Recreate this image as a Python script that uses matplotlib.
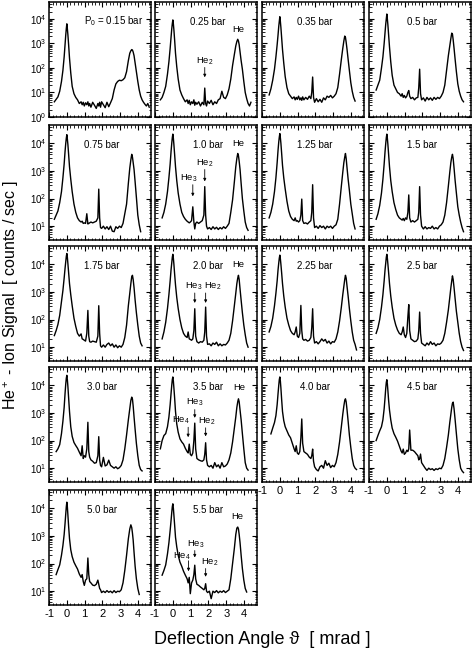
import numpy as np
import matplotlib
matplotlib.use("Agg")
import matplotlib.pyplot as plt
from matplotlib.ticker import FixedLocator, MultipleLocator, LogLocator, NullFormatter

plt.rcParams['font.family'] = ['Liberation Sans', 'DejaVu Sans']
plt.rcParams['mathtext.fontset'] = 'custom'
plt.rcParams['mathtext.rm'] = 'Liberation Sans'
plt.rcParams['mathtext.it'] = 'Liberation Sans:italic'
plt.rcParams['mathtext.bf'] = 'Liberation Sans:bold'
plt.rcParams['axes.unicode_minus'] = False

nan = float('nan')

# deflection angle grid [mrad]
angle = [-0.70, -0.60, -0.50, -0.40, -0.30, -0.22, -0.15, -0.10, -0.06, -0.03,
         0.00, 0.03, 0.06, 0.10, 0.15, 0.22, 0.30, 0.40, 0.50, 0.60,
         0.70, 0.80, 0.86, 0.92, 0.98, 1.05, 1.12, 1.18, 1.23, 1.28,
         1.35, 1.45, 1.55, 1.65, 1.74, 1.79, 1.84, 1.89, 1.95, 2.05,
         2.15, 2.25, 2.35, 2.45, 2.55, 2.65, 2.75, 2.85, 2.95, 3.05,
         3.15, 3.25, 3.35, 3.45, 3.53, 3.59, 3.64, 3.68, 3.72, 3.77,
         3.83, 3.90, 3.98, 4.06, 4.14, 4.22, 4.30, 4.38, 4.46, 4.54,
         4.62]

# log10 of He+ signal [counts/sec]
sig_015 = [0.62, 0.72, 0.82, 1.05, 1.45, 1.9, 2.45, 2.95, 3.35, 3.6,
           3.8, 3.6, 3.35, 2.95, 2.4, 1.8, 1.25, 0.95, 0.8, 0.7,
           0.55, 0.62, 0.5, 0.6, 0.45, 0.58, 0.5, 0.62, 0.45, 0.55,
           0.4, 0.6, 0.48, 0.35, 0.55, 0.45, 0.6, 0.4, 0.62, 0.5,
           0.38, 0.6, 0.42, 0.58, 0.75, 1.1, 1.35, 1.45, 1.5, 1.48,
           1.52, 1.6, 1.85, 2.3, 2.6, 2.7, 2.75, 2.73, 2.65, 2.5,
           2.2, 1.85, 1.45, 1.1, 0.85, 0.7, 0.6, 0.52, 0.45, 0.55,
           0.4]
sig_025 = [0.7, 0.8, 1.0, 1.25, 1.75, 2.25, 2.8, 3.25, 3.6, 3.8,
           3.96, 3.8, 3.55, 3.15, 2.6, 2.05, 1.55, 1.1, 0.9, 0.75,
           0.62, 0.7, 0.55, 0.68, 0.5, 0.62, 0.55, 0.7, 0.48, 0.6,
           0.52, 0.62, 0.45, 0.6, 0.5, 1.18, 0.55, 0.45, 0.65, 0.55,
           0.68, 0.5, 0.62, 0.55, 0.7, 0.75, 1.05, 0.8, 0.75, 0.9,
           1.15, 1.55, 2.1, 2.55, 2.9, 3.08, 3.17, 3.1, 2.95, 2.65,
           2.3, 1.95, 1.45, 1.0, 0.75, 0.55, 0.45, 0.6, nan, nan,
           nan]
sig_035 = [nan, 0.9, 1.15, 1.5, 1.95, 2.45, 2.95, 3.35, 3.7, 3.9,
           4.09, 3.9, 3.65, 3.25, 2.75, 2.2, 1.65, 1.2, 0.95, 0.85,
           0.75, 0.82, 0.7, 0.8, 0.72, 0.85, 0.7, 0.78, 0.68, 0.82,
           0.7, 0.8, 0.72, 0.85, 0.75, 1.0, 1.63, 0.8, 0.6, 0.75,
           0.62, 0.72, 0.6, 0.78, 0.7, 0.85, 0.8, 0.88, 0.78, 0.85,
           0.95, 1.2, 1.75, 2.35, 2.8, 3.1, 3.3, 3.25, 3.05, 2.75,
           2.35, 1.9, 1.4, 1.05, 0.8, 0.65, nan, nan, nan, nan,
           nan]
sig_05 = [nan, 1.1, 1.3, 1.5, 2.0, 2.45, 3.0, 3.45, 3.8, 4.0,
          4.2, 4.0, 3.75, 3.35, 2.85, 2.25, 1.7, 1.3, 1.15, 1.0,
          0.95, 0.85, 0.95, 0.8, 0.88, 0.78, 0.85, 1.0, 1.08, 0.85,
          0.75, 0.8, 0.7, 0.78, 0.8, 1.2, 1.95, 0.95, 0.7, 0.78,
          0.65, 0.8, 0.7, 0.78, 0.68, 0.8, 0.72, 0.8, 0.75, 0.85,
          1.0, 1.3, 1.9, 2.5, 2.9, 3.2, 3.42, 3.38, 3.15, 2.8,
          2.35, 1.85, 1.35, 1.05, 0.85, 0.7, 0.62, nan, nan, nan,
          nan]
sig_075 = [1.25, 1.4, 1.55, 1.85, 2.25, 2.75, 3.25, 3.7, 4.0, 4.18,
           4.31, 4.15, 3.95, 3.6, 3.15, 2.7, 2.25, 1.8, 1.5, 1.3,
           1.2, 1.15, 1.18, 1.1, 1.12, 1.1, 1.45, 1.08, 1.1, 1.12,
           1.15, 1.12, 1.15, 1.18, 1.3, 2.34, 1.3, 0.95, 0.92, 1.0,
           0.9, 0.98, 0.88, 1.0, 0.82, 0.8, 0.98, 0.92, 1.0, 0.95,
           1.1, 1.45, 1.8, 2.55, 3.1, 3.4, 3.6, 3.5, 3.3, 3.05,
           2.6, 2.05, 1.4, 1.05, 0.8, nan, nan, nan, nan, nan,
           nan]
sig_10 = [nan, 1.3, 1.5, 1.8, 2.25, 2.75, 3.25, 3.7, 4.0, 4.2,
          4.33, 4.18, 3.95, 3.6, 3.15, 2.65, 2.2, 1.8, 1.5, 1.35,
          1.25, 1.18, 1.15, 1.12, 1.15, 1.2, 1.7, 1.15, 0.9, 1.1,
          1.15, 1.1, 1.15, 1.2, 1.4, 2.43, 1.4, 1.0, 0.9, 0.95,
          0.88, 0.98, 0.9, 0.96, 0.88, 0.95, 0.9, 0.98, 0.92, 1.0,
          1.1, 1.5, 1.95, 2.6, 3.15, 3.45, 3.63, 3.55, 3.35, 3.05,
          2.55, 2.0, 1.55, 1.15, 0.95, 0.85, nan, nan, nan, nan,
          nan]
sig_125 = [nan, 1.3, 1.5, 1.8, 2.25, 2.75, 3.3, 3.75, 4.05, 4.22,
           4.35, 4.2, 4.0, 3.65, 3.2, 2.75, 2.35, 1.9, 1.55, 1.35,
           1.25, 1.2, 1.3, 1.18, 1.2, 1.15, 1.2, 1.4, 1.98, 1.2,
           1.1, 1.12, 1.08, 1.15, 1.2, 1.5, 2.5, 1.3, 0.95, 1.0,
           0.92, 1.02, 0.95, 1.0, 0.9, 1.0, 0.95, 1.0, 0.92, 1.0,
           1.05, 1.25, 1.8, 2.45, 2.95, 3.3, 3.5, 3.63, 3.45, 3.1,
           2.7, 2.3, 1.8, 1.45, 1.1, 0.9, nan, nan, nan, nan,
           nan]
sig_15 = [nan, 1.25, 1.45, 1.75, 2.2, 2.7, 3.25, 3.7, 4.0, 4.2,
          4.33, 4.18, 3.95, 3.6, 3.15, 2.65, 2.25, 1.85, 1.6, 1.4,
          1.3, 1.25, 1.22, 1.28, 1.2, 1.3, 1.25, 1.5, 2.13, 1.3,
          1.15, 1.2, 1.15, 1.2, 1.25, 1.5, 2.43, 1.4, 1.0, 0.9,
          0.98, 0.9, 0.95, 0.92, 1.0, 0.9, 0.95, 0.9, 1.0, 1.05,
          1.15, 1.4, 1.85, 2.45, 2.95, 3.3, 3.5, 3.6, 3.45, 3.1,
          2.65, 2.2, 1.7, 1.4, 1.15, 0.95, 0.8, nan, nan, nan,
          nan]
sig_175 = [1.42, 1.6, 1.82, 2.15, 2.65, 3.05, 3.5, 3.85, 4.1, 4.28,
           4.39, 4.25, 4.02, 3.7, 3.3, 2.9, 2.5, 2.05, 1.75, 1.5,
           1.4, 1.48, 1.3, 1.28, 1.25, 1.22, 1.5, 2.33, 1.4, 1.2,
           1.18, 1.22, 1.2, 1.18, 1.4, 2.5, 1.5, 1.05, 1.0, 1.08,
           1.0, 1.1, 1.15, 1.05, 1.12, 1.0, 1.08, 0.98, 1.05, 1.0,
           1.1, 1.35, 1.8, 2.5, 2.95, 3.3, 3.55, 3.6, 3.45, 3.15,
           2.7, 2.25, 1.8, 1.4, 1.15, 1.05, nan, nan, nan, nan,
           nan]
sig_20 = [nan, 1.3, 1.55, 1.9, 2.4, 2.9, 3.4, 3.8, 4.05, 4.25,
          4.36, 4.22, 4.0, 3.65, 3.25, 2.8, 2.4, 2.0, 1.7, 1.5,
          1.4, 1.35, 1.55, 1.3, 1.28, 1.25, 1.3, 1.6, 2.39, 1.4,
          1.2, 1.15, 1.2, 1.18, 1.25, 1.55, 2.45, 1.4, 1.1, 1.12,
          1.05, 1.15, 1.1, 1.18, 1.05, 1.12, 1.05, 1.1, 1.08, 1.15,
          1.25, 1.5, 1.95, 2.5, 2.95, 3.3, 3.5, 3.6, 3.45, 3.1,
          2.7, 2.25, 1.8, 1.45, 1.15, 1.0, nan, nan, nan, nan,
          nan]
sig_225 = [nan, 1.55, 1.75, 2.05, 2.5, 2.95, 3.4, 3.8, 4.05, 4.22,
           4.33, 4.2, 4.0, 3.7, 3.3, 2.85, 2.45, 2.05, 1.8, 1.6,
           1.5, 1.45, 1.55, 1.73, 1.4, 1.35, 1.5, 2.51, 1.6, 1.3,
           1.25, 1.28, 1.22, 1.25, 1.35, 1.7, 2.39, 1.4, 1.15, 1.2,
           1.12, 1.2, 1.3, 1.22, 1.28, 1.15, 1.22, 1.12, 1.2, 1.18,
           1.3, 1.55, 1.95, 2.45, 2.9, 3.2, 3.45, 3.6, 3.5, 3.2,
           2.85, 2.4, 1.95, 1.55, 1.25, 1.1, 0.9, nan, nan, nan,
           nan]
sig_25 = [nan, 1.5, 1.7, 2.0, 2.45, 2.9, 3.4, 3.8, 4.05, 4.25,
          4.36, 4.22, 4.0, 3.7, 3.3, 2.85, 2.45, 2.05, 1.8, 1.62,
          1.5, 1.45, 1.55, 1.73, 1.45, 1.35, 1.5, 2.1, 2.54, 1.6,
          1.3, 1.25, 1.2, 1.22, 1.3, 1.6, 2.27, 1.5, 1.15, 1.1,
          1.05, 1.15, 1.08, 1.2, 1.1, 1.15, 1.05, 1.12, 1.1, 1.15,
          1.25, 1.5, 1.9, 2.35, 2.8, 3.15, 3.4, 3.58, 3.45, 3.15,
          2.75, 2.3, 1.9, 1.5, 1.2, 1.0, 0.88, nan, nan, nan,
          nan]
sig_30 = [nan, 1.6, 1.7, 1.85, 2.25, 2.7, 3.2, 3.7, 4.05, 4.25,
          4.36, 4.2, 3.95, 3.55, 3.05, 2.5, 2.15, 1.93, 1.82, 1.72,
          1.58, 1.45, 1.81, 1.35, 1.45, 1.4, 1.7, 2.66, 1.6, 1.4,
          1.3, 1.25, 1.18, 1.2, 1.45, 2.14, 1.3, 1.1, 1.05, 1.39,
          1.08, 1.12, 1.29, 1.1, 1.05, 1.0, 1.05, 0.98, 1.02, 1.1,
          1.3, 1.7, 2.2, 2.75, 3.15, 3.45, 3.57, 3.5, 3.25, 2.85,
          2.4, 1.9, 1.45, 1.1, 0.95, 0.9, nan, nan, nan, nan,
          nan]
sig_35 = [1.7, 2.0, 2.18, 2.25, 2.5, 2.85, 3.3, 3.7, 4.0, 4.2,
          4.3, 4.15, 3.9, 3.55, 3.05, 2.6, 2.3, 2.06, 1.95, 1.87,
          1.72, 1.6, 1.55, 1.87, 1.5, 1.45, 1.55, 2.0, 2.63, 1.7,
          1.35, 1.3, 1.27, 1.25, 1.3, 1.5, 1.92, 1.3, 1.1, 1.05,
          1.1, 1.0, 1.2, 1.05, 1.12, 1.0, 1.2, 1.05, 1.08, 1.15,
          1.3, 1.55, 1.95, 2.45, 2.85, 3.2, 3.4, 3.51, 3.4, 3.1,
          2.75, 2.25, 1.7, 1.2, 1.0, 0.93, nan, nan, nan, nan,
          nan]
sig_40 = [nan, nan, 2.24, 2.45, 2.65, 2.9, 3.3, 3.7, 4.0, 4.2,
          4.3, 4.15, 3.9, 3.5, 3.05, 2.72, 2.5, 2.35, 2.2, 2.1,
          1.9, 1.7, 1.6, 1.81, 1.55, 1.5, 1.6, 2.1, 2.78, 1.9,
          1.6, 1.55, 1.5, 1.4, 1.35, 1.45, 1.69, 1.25, 1.05, 0.95,
          0.9, 1.05, 1.1, 1.0, 1.27, 1.1, 1.18, 1.02, 1.1, 1.05,
          1.2, 1.5, 1.95, 2.5, 2.95, 3.25, 3.45, 3.51, 3.4, 3.1,
          2.7, 2.2, 1.75, 1.35, 1.1, 1.0, 0.95, nan, nan, nan,
          nan]
sig_45 = [nan, 2.0, 2.18, 2.35, 2.5, 2.75, 3.15, 3.55, 3.9, 4.1,
          4.2, 4.05, 3.8, 3.45, 3.1, 2.75, 2.45, 2.25, 2.12, 1.98,
          1.8, 1.62, 1.55, 1.69, 1.5, 1.55, 1.65, 1.6, 1.7, 2.38,
          1.65, 1.65, 1.6, 1.52, 1.45, 1.3, 1.35, 1.51, 1.2, 1.1,
          1.0, 0.92, 1.0, 0.95, 0.98, 0.92, 0.98, 0.95, 1.0, 0.98,
          1.1, 1.35, 1.75, 2.2, 2.65, 2.95, 3.2, 3.35, 3.39, 3.15,
          2.75, 2.25, 1.7, 1.3, 1.0, 0.9, 0.84, nan, nan, nan,
          nan]
sig_50 = [nan, 1.6, 1.78, 1.95, 2.3, 2.65, 3.05, 3.45, 3.8, 4.05,
          4.22, 4.05, 3.75, 3.35, 2.9, 2.5, 2.25, 2.05, 1.92, 1.8,
          1.62, 1.5, 1.6, 1.35, 1.21, 1.4, 1.45, 2.2, 1.6, 1.35,
          1.3, 1.22, 1.2, 1.25, 1.4, 1.25, 1.1, 1.05, 0.95, 1.0,
          0.95, 1.02, 0.96, 1.0, 0.94, 1.02, 0.95, 1.0, 0.98, 1.05,
          1.3, 1.75, 2.3, 2.9, 3.25, 3.4, 3.3, 3.1, 2.85, 2.4,
          1.9, 1.45, 1.1, 0.88, nan, nan, nan, nan, nan, nan,
          nan]
sig_55 = [nan, 1.58, 1.75, 1.95, 2.35, 2.75, 3.2, 3.55, 3.85, 4.05,
          4.16, 4.0, 3.75, 3.4, 2.95, 2.6, 2.3, 2.05, 1.9, 1.72,
          1.58, 1.45, 1.3, 1.5, 0.91, 1.3, 1.4, 1.6, 1.94, 1.45,
          1.25, 1.21, 1.15, 1.1, 1.05, 1.1, 1.27, 1.0, 0.95, 1.0,
          0.73, 1.0, 0.95, 1.02, 0.94, 1.0, 0.96, 1.02, 0.95, 1.0,
          1.05, 1.45, 2.0, 2.55, 3.05, 3.28, 3.32, 3.25, 3.05, 2.75,
          2.3, 1.82, 1.4, 1.1, 0.97, nan, nan, nan, nan, nan,
          nan]

labels = ['P$_0$ = 0.15 bar', '0.25 bar', '0.35 bar', '0.5 bar',
          '0.75 bar', '1.0 bar', '1.25 bar', '1.5 bar',
          '1.75 bar', '2.0 bar', '2.25 bar', '2.5 bar',
          '3.0 bar', '3.5 bar', '4.0 bar', '4.5 bar',
          '5.0 bar', '5.5 bar']
signals = [sig_015, sig_025, sig_035, sig_05,
           sig_075, sig_10, sig_125, sig_15,
           sig_175, sig_20, sig_225, sig_25,
           sig_30, sig_35, sig_40, sig_45,
           sig_50, sig_55]
xticks = [-1, 0, 1, 2, 3, 4]

W, H = 474.0, 651.0
left_px = [49, 155, 262, 369]
top_px = [2, 125, 246, 367, 490]
w_px, h_px = 102, 115

fig = plt.figure(figsize=(W / 100, H / 100), dpi=100)
axes = []
for k, (lab, sig) in enumerate(zip(labels, signals)):
    r, c = divmod(k, 4)
    ax = fig.add_axes([left_px[c] / W, 1 - (top_px[r] + h_px) / H, w_px / W, h_px / H])
    ax.plot(angle, [10 ** v for v in sig], color='k', lw=1.0)
    ax.set_yscale('log')
    ax.set_xlim(-1.0, 4.72)
    if r == 0:
        ax.set_ylim(1, 10 ** 4.69)
    else:
        ax.set_ylim(10 ** 0.5, 10 ** 4.66)

    ax.xaxis.set_major_locator(FixedLocator(xticks))
    ax.xaxis.set_minor_locator(MultipleLocator(0.2))
    ax.yaxis.set_major_locator(LogLocator(base=10, numticks=10))
    ax.yaxis.set_minor_locator(LogLocator(base=10, subs=np.arange(2, 10), numticks=10))
    ax.yaxis.set_minor_formatter(NullFormatter())
    ax.tick_params(which='both', direction='in', top=True, right=True)
    ax.tick_params(which='major', length=3.5, width=0.8)
    ax.tick_params(which='minor', length=1.8, width=0.6)
    ax.tick_params(axis='y', labelsize=7, pad=2)
    ax.tick_params(axis='x', labelsize=8, pad=3)
    for s in ax.spines.values():
        s.set_linewidth(1.1)

    if c != 0:
        ax.tick_params(axis='y', labelleft=False)
    if r == 4 or (r == 3 and c >= 2):
        ax.set_xticklabels([str(t) for t in xticks])
    else:
        ax.tick_params(axis='x', labelbottom=False)

    xt = 0.63 if k == 0 else 0.52
    ax.text(xt, 0.83, lab, transform=ax.transAxes, ha='center', va='center', fontsize=7)
    axes.append(ax)


def peak_mark(ax, text, tx, ty, ax_x, y_from, y_to):
    ax.text(tx, 10 ** ty, text, ha='center', va='center', fontsize=6.8)
    if ax_x is not None:
        ax.annotate('', xy=(ax_x, 10 ** y_to), xytext=(ax_x, 10 ** y_from),
                    arrowprops=dict(arrowstyle='-|>', lw=0.6, color='k',
                                    mutation_scale=4, shrinkA=0, shrinkB=0))


# 0.25 bar
peak_mark(axes[1], 'He', 3.65, 3.58, None, 0, 0)
peak_mark(axes[1], 'He$_2$', 1.77, 2.28, 1.79, 2.02, 1.62)
# 1.0 bar
peak_mark(axes[5], 'He', 3.65, 4.0, None, 0, 0)
peak_mark(axes[5], 'He$_2$', 1.79, 3.27, 1.79, 3.05, 2.62)
peak_mark(axes[5], 'He$_3$', 0.9, 2.72, 1.12, 2.5, 2.08)
# 2.0 bar
peak_mark(axes[9], 'He', 3.68, 4.0, None, 0, 0)
peak_mark(axes[9], 'He$_3$', 1.15, 3.2, 1.23, 2.96, 2.6)
peak_mark(axes[9], 'He$_2$', 2.22, 3.2, 1.84, 2.96, 2.6)
# 3.5 bar
peak_mark(axes[13], 'He', 3.7, 3.91, None, 0, 0)
peak_mark(axes[13], 'He$_3$', 1.22, 3.4, 1.23, 3.12, 2.82)
peak_mark(axes[13], 'He$_4$', 0.45, 2.72, 0.86, 2.48, 2.12)
peak_mark(axes[13], 'He$_2$', 1.92, 2.7, 1.84, 2.46, 2.15)
# 5.5 bar
peak_mark(axes[17], 'He', 3.63, 3.71, None, 0, 0)
peak_mark(axes[17], 'He$_3$', 1.3, 2.68, 1.23, 2.47, 2.22)
peak_mark(axes[17], 'He$_4$', 0.52, 2.28, 0.88, 2.1, 1.72)
peak_mark(axes[17], 'He$_2$', 2.08, 2.03, 1.84, 1.82, 1.52)

fig.text(11 / W, 1 - 295 / H, 'He$^+$ - Ion Signal  [ counts / sec ]',
         rotation=90, ha='center', va='center', fontsize=11.5)
fig.text(262 / W, 1 - 640 / H, 'Deflection Angle ϑ  [ mrad ]',
         ha='center', va='center', fontsize=13)

fig.savefig('out.png', dpi=100)
